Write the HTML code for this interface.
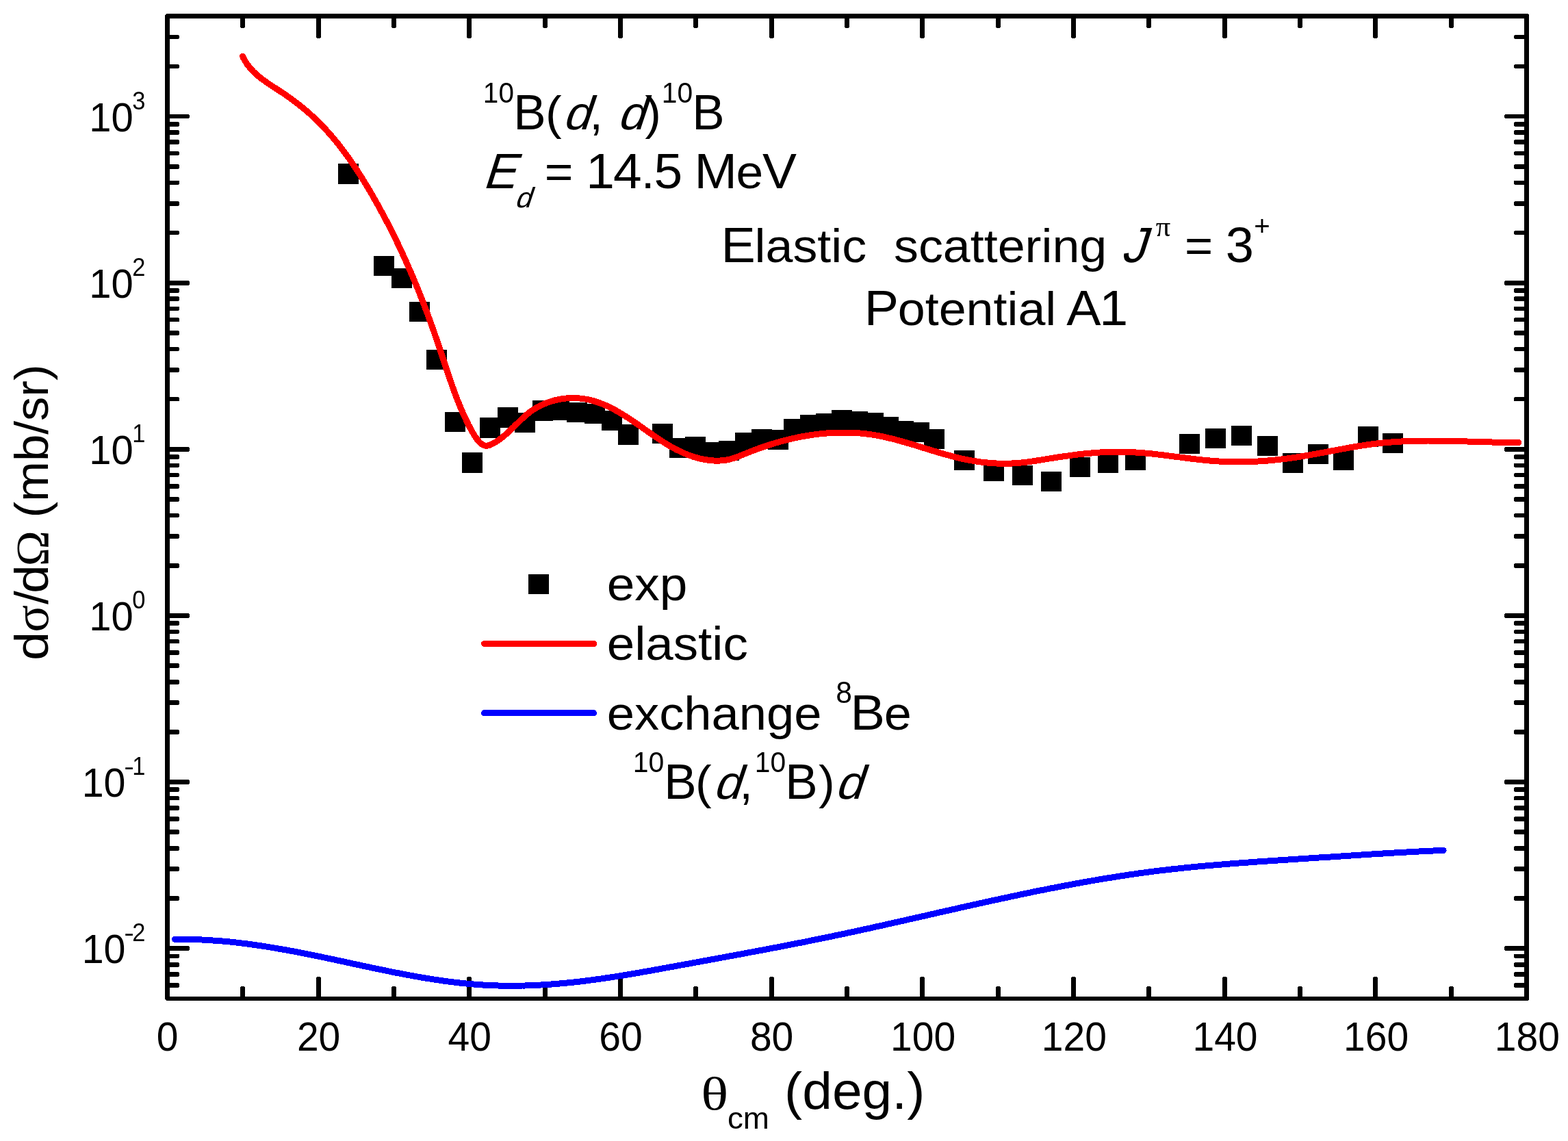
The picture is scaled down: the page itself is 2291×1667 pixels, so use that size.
<!DOCTYPE html>
<html lang="en"><head><meta charset="utf-8"><title>10B(d,d)10B elastic scattering, Ed = 14.5 MeV</title>
<style>html,body{margin:0;padding:0;background:#fff}body{width:2291px;height:1667px;overflow:hidden}svg{display:block}text{font-family:"Liberation Sans",sans-serif;fill:#000;white-space:pre}.sym{font-family:"Liberation Serif",serif}</style>
</head><body>
<svg width="2291" height="1667" viewBox="0 0 2291 1667">
<rect width="2291" height="1667" fill="#fff"/>
<path fill="#000" fill-rule="evenodd" shape-rendering="crispEdges" d="M243,20 H2232 L2234,22 V1460 L2232,1462 H243 L241,1460 V22 Z M248,27 V1456 H2227 V27Z"/>
<path fill="#000" shape-rendering="crispEdges" d="M351.33,1457 V1442.40 L352.73,1441.00 H356.93 L358.33,1442.40 V1457Z M351.33,26 V39.60 L352.73,41.00 H356.93 L358.33,39.60 V26Z M461.67,1457 V1428.40 L463.07,1427.00 H467.27 L468.67,1428.40 V1457Z M461.67,26 V54.60 L463.07,56.00 H467.27 L468.67,54.60 V26Z M572.00,1457 V1442.40 L573.40,1441.00 H577.60 L579.00,1442.40 V1457Z M572.00,26 V39.60 L573.40,41.00 H577.60 L579.00,39.60 V26Z M682.33,1457 V1428.40 L683.73,1427.00 H687.93 L689.33,1428.40 V1457Z M682.33,26 V54.60 L683.73,56.00 H687.93 L689.33,54.60 V26Z M792.67,1457 V1442.40 L794.07,1441.00 H798.27 L799.67,1442.40 V1457Z M792.67,26 V39.60 L794.07,41.00 H798.27 L799.67,39.60 V26Z M903.00,1457 V1428.40 L904.40,1427.00 H908.60 L910.00,1428.40 V1457Z M903.00,26 V54.60 L904.40,56.00 H908.60 L910.00,54.60 V26Z M1013.33,1457 V1442.40 L1014.73,1441.00 H1018.93 L1020.33,1442.40 V1457Z M1013.33,26 V39.60 L1014.73,41.00 H1018.93 L1020.33,39.60 V26Z M1123.67,1457 V1428.40 L1125.07,1427.00 H1129.27 L1130.67,1428.40 V1457Z M1123.67,26 V54.60 L1125.07,56.00 H1129.27 L1130.67,54.60 V26Z M1234.00,1457 V1442.40 L1235.40,1441.00 H1239.60 L1241.00,1442.40 V1457Z M1234.00,26 V39.60 L1235.40,41.00 H1239.60 L1241.00,39.60 V26Z M1344.33,1457 V1428.40 L1345.73,1427.00 H1349.93 L1351.33,1428.40 V1457Z M1344.33,26 V54.60 L1345.73,56.00 H1349.93 L1351.33,54.60 V26Z M1454.67,1457 V1442.40 L1456.07,1441.00 H1460.27 L1461.67,1442.40 V1457Z M1454.67,26 V39.60 L1456.07,41.00 H1460.27 L1461.67,39.60 V26Z M1565.00,1457 V1428.40 L1566.40,1427.00 H1570.60 L1572.00,1428.40 V1457Z M1565.00,26 V54.60 L1566.40,56.00 H1570.60 L1572.00,54.60 V26Z M1675.33,1457 V1442.40 L1676.73,1441.00 H1680.93 L1682.33,1442.40 V1457Z M1675.33,26 V39.60 L1676.73,41.00 H1680.93 L1682.33,39.60 V26Z M1785.67,1457 V1428.40 L1787.07,1427.00 H1791.27 L1792.67,1428.40 V1457Z M1785.67,26 V54.60 L1787.07,56.00 H1791.27 L1792.67,54.60 V26Z M1896.00,1457 V1442.40 L1897.40,1441.00 H1901.60 L1903.00,1442.40 V1457Z M1896.00,26 V39.60 L1897.40,41.00 H1901.60 L1903.00,39.60 V26Z M2006.33,1457 V1428.40 L2007.73,1427.00 H2011.93 L2013.33,1428.40 V1457Z M2006.33,26 V54.60 L2007.73,56.00 H2011.93 L2013.33,54.60 V26Z M2116.67,1457 V1442.40 L2118.07,1441.00 H2122.27 L2123.67,1442.40 V1457Z M2116.67,26 V39.60 L2118.07,41.00 H2122.27 L2123.67,39.60 V26Z M247,1436.34 H260.60 L262.00,1437.74 V1441.54 L260.60,1442.94 H247Z M2228,1436.34 H2213.40 L2212.00,1437.74 V1441.54 L2213.40,1442.94 H2228Z M247,1420.06 H260.60 L262.00,1421.46 V1425.26 L260.60,1426.66 H247Z M2228,1420.06 H2213.40 L2212.00,1421.46 V1425.26 L2213.40,1426.66 H2228Z M247,1405.96 H260.60 L262.00,1407.36 V1411.16 L260.60,1412.56 H247Z M2228,1405.96 H2213.40 L2212.00,1407.36 V1411.16 L2213.40,1412.56 H2228Z M247,1393.52 H260.60 L262.00,1394.92 V1398.72 L260.60,1400.12 H247Z M2228,1393.52 H2213.40 L2212.00,1394.92 V1398.72 L2213.40,1400.12 H2228Z M247,1382.40 H275.60 L277.00,1383.80 V1387.60 L275.60,1389.00 H247Z M2228,1382.40 H2199.40 L2198.00,1383.80 V1387.60 L2199.40,1389.00 H2228Z M247,1309.21 H260.60 L262.00,1310.61 V1314.41 L260.60,1315.81 H247Z M2228,1309.21 H2213.40 L2212.00,1310.61 V1314.41 L2213.40,1315.81 H2228Z M247,1266.40 H260.60 L262.00,1267.80 V1271.60 L260.60,1273.00 H247Z M2228,1266.40 H2213.40 L2212.00,1267.80 V1271.60 L2213.40,1273.00 H2228Z M247,1236.03 H260.60 L262.00,1237.43 V1241.23 L260.60,1242.63 H247Z M2228,1236.03 H2213.40 L2212.00,1237.43 V1241.23 L2213.40,1242.63 H2228Z M247,1212.47 H260.60 L262.00,1213.87 V1217.67 L260.60,1219.07 H247Z M2228,1212.47 H2213.40 L2212.00,1213.87 V1217.67 L2213.40,1219.07 H2228Z M247,1193.22 H260.60 L262.00,1194.62 V1198.42 L260.60,1199.82 H247Z M2228,1193.22 H2213.40 L2212.00,1194.62 V1198.42 L2213.40,1199.82 H2228Z M247,1176.94 H260.60 L262.00,1178.34 V1182.14 L260.60,1183.54 H247Z M2228,1176.94 H2213.40 L2212.00,1178.34 V1182.14 L2213.40,1183.54 H2228Z M247,1162.84 H260.60 L262.00,1164.24 V1168.04 L260.60,1169.44 H247Z M2228,1162.84 H2213.40 L2212.00,1164.24 V1168.04 L2213.40,1169.44 H2228Z M247,1150.40 H260.60 L262.00,1151.80 V1155.60 L260.60,1157.00 H247Z M2228,1150.40 H2213.40 L2212.00,1151.80 V1155.60 L2213.40,1157.00 H2228Z M247,1139.28 H275.60 L277.00,1140.68 V1144.48 L275.60,1145.88 H247Z M2228,1139.28 H2199.40 L2198.00,1140.68 V1144.48 L2199.40,1145.88 H2228Z M247,1066.09 H260.60 L262.00,1067.49 V1071.29 L260.60,1072.69 H247Z M2228,1066.09 H2213.40 L2212.00,1067.49 V1071.29 L2213.40,1072.69 H2228Z M247,1023.28 H260.60 L262.00,1024.68 V1028.48 L260.60,1029.88 H247Z M2228,1023.28 H2213.40 L2212.00,1024.68 V1028.48 L2213.40,1029.88 H2228Z M247,992.91 H260.60 L262.00,994.31 V998.11 L260.60,999.51 H247Z M2228,992.91 H2213.40 L2212.00,994.31 V998.11 L2213.40,999.51 H2228Z M247,969.35 H260.60 L262.00,970.75 V974.55 L260.60,975.95 H247Z M2228,969.35 H2213.40 L2212.00,970.75 V974.55 L2213.40,975.95 H2228Z M247,950.10 H260.60 L262.00,951.50 V955.30 L260.60,956.70 H247Z M2228,950.10 H2213.40 L2212.00,951.50 V955.30 L2213.40,956.70 H2228Z M247,933.82 H260.60 L262.00,935.22 V939.02 L260.60,940.42 H247Z M2228,933.82 H2213.40 L2212.00,935.22 V939.02 L2213.40,940.42 H2228Z M247,919.72 H260.60 L262.00,921.12 V924.92 L260.60,926.32 H247Z M2228,919.72 H2213.40 L2212.00,921.12 V924.92 L2213.40,926.32 H2228Z M247,907.28 H260.60 L262.00,908.68 V912.48 L260.60,913.88 H247Z M2228,907.28 H2213.40 L2212.00,908.68 V912.48 L2213.40,913.88 H2228Z M247,896.16 H275.60 L277.00,897.56 V901.36 L275.60,902.76 H247Z M2228,896.16 H2199.40 L2198.00,897.56 V901.36 L2199.40,902.76 H2228Z M247,822.97 H260.60 L262.00,824.37 V828.17 L260.60,829.57 H247Z M2228,822.97 H2213.40 L2212.00,824.37 V828.17 L2213.40,829.57 H2228Z M247,780.16 H260.60 L262.00,781.56 V785.36 L260.60,786.76 H247Z M2228,780.16 H2213.40 L2212.00,781.56 V785.36 L2213.40,786.76 H2228Z M247,749.79 H260.60 L262.00,751.19 V754.99 L260.60,756.39 H247Z M2228,749.79 H2213.40 L2212.00,751.19 V754.99 L2213.40,756.39 H2228Z M247,726.23 H260.60 L262.00,727.63 V731.43 L260.60,732.83 H247Z M2228,726.23 H2213.40 L2212.00,727.63 V731.43 L2213.40,732.83 H2228Z M247,706.98 H260.60 L262.00,708.38 V712.18 L260.60,713.58 H247Z M2228,706.98 H2213.40 L2212.00,708.38 V712.18 L2213.40,713.58 H2228Z M247,690.70 H260.60 L262.00,692.10 V695.90 L260.60,697.30 H247Z M2228,690.70 H2213.40 L2212.00,692.10 V695.90 L2213.40,697.30 H2228Z M247,676.60 H260.60 L262.00,678.00 V681.80 L260.60,683.20 H247Z M2228,676.60 H2213.40 L2212.00,678.00 V681.80 L2213.40,683.20 H2228Z M247,664.16 H260.60 L262.00,665.56 V669.36 L260.60,670.76 H247Z M2228,664.16 H2213.40 L2212.00,665.56 V669.36 L2213.40,670.76 H2228Z M247,653.04 H275.60 L277.00,654.44 V658.24 L275.60,659.64 H247Z M2228,653.04 H2199.40 L2198.00,654.44 V658.24 L2199.40,659.64 H2228Z M247,579.85 H260.60 L262.00,581.25 V585.05 L260.60,586.45 H247Z M2228,579.85 H2213.40 L2212.00,581.25 V585.05 L2213.40,586.45 H2228Z M247,537.04 H260.60 L262.00,538.44 V542.24 L260.60,543.64 H247Z M2228,537.04 H2213.40 L2212.00,538.44 V542.24 L2213.40,543.64 H2228Z M247,506.67 H260.60 L262.00,508.07 V511.87 L260.60,513.27 H247Z M2228,506.67 H2213.40 L2212.00,508.07 V511.87 L2213.40,513.27 H2228Z M247,483.11 H260.60 L262.00,484.51 V488.31 L260.60,489.71 H247Z M2228,483.11 H2213.40 L2212.00,484.51 V488.31 L2213.40,489.71 H2228Z M247,463.86 H260.60 L262.00,465.26 V469.06 L260.60,470.46 H247Z M2228,463.86 H2213.40 L2212.00,465.26 V469.06 L2213.40,470.46 H2228Z M247,447.58 H260.60 L262.00,448.98 V452.78 L260.60,454.18 H247Z M2228,447.58 H2213.40 L2212.00,448.98 V452.78 L2213.40,454.18 H2228Z M247,433.48 H260.60 L262.00,434.88 V438.68 L260.60,440.08 H247Z M2228,433.48 H2213.40 L2212.00,434.88 V438.68 L2213.40,440.08 H2228Z M247,421.04 H260.60 L262.00,422.44 V426.24 L260.60,427.64 H247Z M2228,421.04 H2213.40 L2212.00,422.44 V426.24 L2213.40,427.64 H2228Z M247,409.92 H275.60 L277.00,411.32 V415.12 L275.60,416.52 H247Z M2228,409.92 H2199.40 L2198.00,411.32 V415.12 L2199.40,416.52 H2228Z M247,336.73 H260.60 L262.00,338.13 V341.93 L260.60,343.33 H247Z M2228,336.73 H2213.40 L2212.00,338.13 V341.93 L2213.40,343.33 H2228Z M247,293.92 H260.60 L262.00,295.32 V299.12 L260.60,300.52 H247Z M2228,293.92 H2213.40 L2212.00,295.32 V299.12 L2213.40,300.52 H2228Z M247,263.55 H260.60 L262.00,264.95 V268.75 L260.60,270.15 H247Z M2228,263.55 H2213.40 L2212.00,264.95 V268.75 L2213.40,270.15 H2228Z M247,239.99 H260.60 L262.00,241.39 V245.19 L260.60,246.59 H247Z M2228,239.99 H2213.40 L2212.00,241.39 V245.19 L2213.40,246.59 H2228Z M247,220.74 H260.60 L262.00,222.14 V225.94 L260.60,227.34 H247Z M2228,220.74 H2213.40 L2212.00,222.14 V225.94 L2213.40,227.34 H2228Z M247,204.46 H260.60 L262.00,205.86 V209.66 L260.60,211.06 H247Z M2228,204.46 H2213.40 L2212.00,205.86 V209.66 L2213.40,211.06 H2228Z M247,190.36 H260.60 L262.00,191.76 V195.56 L260.60,196.96 H247Z M2228,190.36 H2213.40 L2212.00,191.76 V195.56 L2213.40,196.96 H2228Z M247,177.92 H260.60 L262.00,179.32 V183.12 L260.60,184.52 H247Z M2228,177.92 H2213.40 L2212.00,179.32 V183.12 L2213.40,184.52 H2228Z M247,166.80 H275.60 L277.00,168.20 V172.00 L275.60,173.40 H247Z M2228,166.80 H2199.40 L2198.00,168.20 V172.00 L2199.40,173.40 H2228Z M247,93.61 H260.60 L262.00,95.01 V98.81 L260.60,100.21 H247Z M2228,93.61 H2213.40 L2212.00,95.01 V98.81 L2213.40,100.21 H2228Z M247,50.80 H260.60 L262.00,52.20 V56.00 L260.60,57.40 H247Z M2228,50.80 H2213.40 L2212.00,52.20 V56.00 L2213.40,57.40 H2228Z"/>
<g fill="#000" shape-rendering="crispEdges">
<rect x="494" y="239" width="30" height="30"/>
<rect x="546" y="374" width="30" height="29"/>
<rect x="572" y="392" width="30" height="29"/>
<rect x="598" y="441" width="30" height="29"/>
<rect x="623" y="511" width="30" height="29"/>
<rect x="650" y="602" width="30" height="29"/>
<rect x="675" y="661" width="30" height="30"/>
<rect x="701" y="610" width="30" height="30"/>
<rect x="727" y="595" width="30" height="30"/>
<rect x="752" y="603" width="30" height="29"/>
<rect x="778" y="585" width="30" height="30"/>
<rect x="802" y="585" width="30" height="29"/>
<rect x="828" y="588" width="30" height="29"/>
<rect x="854" y="590" width="30" height="29"/>
<rect x="879" y="600" width="30" height="29"/>
<rect x="903" y="620" width="30" height="30"/>
<rect x="953" y="619" width="30" height="29"/>
<rect x="978" y="640" width="30" height="29"/>
<rect x="1001" y="638" width="30" height="29"/>
<rect x="1026" y="646" width="30" height="29"/>
<rect x="1050" y="644" width="30" height="29"/>
<rect x="1074" y="632" width="30" height="29"/>
<rect x="1098" y="627" width="30" height="29"/>
<rect x="1122" y="628" width="30" height="29"/>
<rect x="1145" y="612" width="30" height="29"/>
<rect x="1169" y="606" width="30" height="29"/>
<rect x="1192" y="604" width="30" height="29"/>
<rect x="1215" y="599" width="30" height="29"/>
<rect x="1238" y="601" width="30" height="29"/>
<rect x="1261" y="603" width="30" height="29"/>
<rect x="1283" y="609" width="30" height="29"/>
<rect x="1305" y="615" width="30" height="29"/>
<rect x="1328" y="617" width="30" height="29"/>
<rect x="1350" y="627" width="30" height="29"/>
<rect x="1394" y="658" width="30" height="29"/>
<rect x="1437" y="674" width="30" height="29"/>
<rect x="1479" y="680" width="30" height="29"/>
<rect x="1521" y="689" width="30" height="29"/>
<rect x="1563" y="668" width="30" height="29"/>
<rect x="1604" y="662" width="30" height="29"/>
<rect x="1644" y="658" width="30" height="29"/>
<rect x="1723" y="634" width="30" height="29"/>
<rect x="1761" y="626" width="30" height="29"/>
<rect x="1799" y="622" width="30" height="29"/>
<rect x="1837" y="637" width="30" height="29"/>
<rect x="1874" y="662" width="30" height="29"/>
<rect x="1911" y="649" width="30" height="29"/>
<rect x="1948" y="658" width="30" height="29"/>
<rect x="1984" y="623" width="30" height="30"/>
<rect x="2020" y="633" width="30" height="29"/>
</g>
<path d="M255.5,1372.4 258.5,1372.4 261.6,1372.3 264.6,1372.3 267.6,1372.3 270.6,1372.3 273.6,1372.4 276.7,1372.4 279.7,1372.5 282.7,1372.6 285.7,1372.7 288.7,1372.8 291.7,1372.9 294.7,1373.0 297.7,1373.2 300.7,1373.3 303.7,1373.5 306.7,1373.7 309.7,1373.9 312.7,1374.1 315.7,1374.3 318.7,1374.5 321.7,1374.8 324.7,1375.0 327.7,1375.3 330.7,1375.6 333.7,1375.8 336.7,1376.1 339.6,1376.5 342.6,1376.8 345.6,1377.1 348.6,1377.4 351.6,1377.8 354.5,1378.2 357.5,1378.5 360.5,1378.9 363.5,1379.3 366.4,1379.7 369.4,1380.1 372.4,1380.5 375.3,1381.0 378.3,1381.4 381.3,1381.8 384.2,1382.3 387.2,1382.7 390.2,1383.2 393.1,1383.7 396.1,1384.2 399.1,1384.7 402.0,1385.2 405.0,1385.7 407.9,1386.2 410.9,1386.7 413.9,1387.2 416.8,1387.7 419.8,1388.3 422.7,1388.8 425.7,1389.4 428.6,1389.9 431.6,1390.5 434.6,1391.0 437.5,1391.6 440.5,1392.2 443.4,1392.8 446.4,1393.4 449.3,1393.9 452.3,1394.5 455.2,1395.1 458.2,1395.7 461.1,1396.3 464.1,1397.0 467.1,1397.6 470.0,1398.2 473.0,1398.8 475.9,1399.4 478.9,1400.0 481.8,1400.7 484.8,1401.3 487.7,1401.9 490.7,1402.6 493.6,1403.2 496.6,1403.8 499.5,1404.5 502.5,1405.1 505.4,1405.7 508.4,1406.4 511.4,1407.0 514.3,1407.7 517.3,1408.3 520.2,1408.9 523.2,1409.6 526.1,1410.2 529.1,1410.8 532.0,1411.5 535.0,1412.1 537.9,1412.7 540.9,1413.4 543.8,1414.0 546.8,1414.6 549.8,1415.2 552.7,1415.9 555.7,1416.5 558.6,1417.1 561.6,1417.7 564.5,1418.3 567.5,1418.9 570.5,1419.5 573.4,1420.1 576.4,1420.7 579.3,1421.3 582.3,1421.8 585.2,1422.4 588.2,1423.0 591.2,1423.6 594.1,1424.1 597.1,1424.7 600.0,1425.2 603.0,1425.8 606.0,1426.3 608.9,1426.8 611.9,1427.3 614.8,1427.8 617.8,1428.4 620.8,1428.9 623.7,1429.3 626.7,1429.8 629.7,1430.3 632.6,1430.8 635.6,1431.2 638.6,1431.7 641.5,1432.1 644.5,1432.5 647.5,1433.0 650.4,1433.4 653.4,1433.8 656.4,1434.2 659.3,1434.5 662.3,1434.9 665.3,1435.3 668.3,1435.6 671.2,1436.0 674.2,1436.3 677.2,1436.6 680.1,1436.9 683.1,1437.2 686.1,1437.5 689.1,1437.7 692.0,1438.0 695.0,1438.2 698.0,1438.5 701.0,1438.7 704.0,1438.9 706.9,1439.1 709.9,1439.2 712.9,1439.4 715.9,1439.5 718.9,1439.7 721.9,1439.8 724.8,1439.9 727.8,1440.0 730.8,1440.0 733.8,1440.1 736.8,1440.2 739.8,1440.2 742.8,1440.2 745.7,1440.2 748.7,1440.2 751.7,1440.2 754.7,1440.2 757.7,1440.2 760.7,1440.1 763.7,1440.0 766.7,1440.0 769.7,1439.9 772.7,1439.8 775.7,1439.7 778.6,1439.5 781.6,1439.4 784.6,1439.3 787.6,1439.1 790.6,1439.0 793.6,1438.8 796.6,1438.6 799.6,1438.4 802.6,1438.2 805.6,1438.0 808.6,1437.7 811.6,1437.5 814.6,1437.3 817.5,1437.0 820.5,1436.7 823.5,1436.5 826.5,1436.2 829.5,1435.9 832.5,1435.6 835.5,1435.3 838.5,1435.0 841.5,1434.6 844.5,1434.3 847.5,1434.0 850.4,1433.6 853.4,1433.2 856.4,1432.9 859.4,1432.5 862.4,1432.1 865.4,1431.7 868.4,1431.3 871.3,1430.9 874.3,1430.5 877.3,1430.1 880.3,1429.7 883.3,1429.2 886.3,1428.8 889.2,1428.3 892.2,1427.9 895.2,1427.4 898.2,1427.0 901.2,1426.5 904.1,1426.0 907.1,1425.5 910.1,1425.1 913.1,1424.6 916.1,1424.1 919.0,1423.6 922.0,1423.1 925.0,1422.6 928.0,1422.1 930.9,1421.6 933.9,1421.1 936.9,1420.5 939.9,1420.0 942.8,1419.5 945.8,1419.0 948.8,1418.4 951.8,1417.9 954.7,1417.4 957.7,1416.8 960.7,1416.3 963.6,1415.8 966.6,1415.2 969.6,1414.7 972.5,1414.1 975.5,1413.6 978.5,1413.1 981.5,1412.5 984.4,1412.0 987.4,1411.4 990.4,1410.9 993.3,1410.3 996.3,1409.8 999.3,1409.2 1002.2,1408.7 1005.2,1408.2 1008.1,1407.6 1011.1,1407.1 1014.1,1406.5 1017.0,1406.0 1020.0,1405.4 1023.0,1404.9 1025.9,1404.4 1028.9,1403.8 1031.9,1403.3 1034.8,1402.7 1037.8,1402.2 1040.7,1401.6 1043.7,1401.1 1046.7,1400.6 1049.6,1400.0 1052.6,1399.5 1055.5,1398.9 1058.5,1398.4 1061.5,1397.8 1064.4,1397.3 1067.4,1396.7 1070.3,1396.2 1073.3,1395.6 1076.2,1395.1 1079.2,1394.5 1082.2,1394.0 1085.1,1393.4 1088.1,1392.9 1091.0,1392.3 1094.0,1391.8 1096.9,1391.2 1099.9,1390.7 1102.8,1390.1 1105.8,1389.6 1108.8,1389.0 1111.7,1388.5 1114.7,1387.9 1117.6,1387.3 1120.6,1386.8 1123.5,1386.2 1126.5,1385.7 1129.4,1385.1 1132.4,1384.5 1135.3,1384.0 1138.3,1383.4 1141.2,1382.8 1144.2,1382.3 1147.1,1381.7 1150.1,1381.1 1153.0,1380.5 1156.0,1380.0 1158.9,1379.4 1161.9,1378.8 1164.8,1378.2 1167.7,1377.6 1170.7,1377.1 1173.6,1376.5 1176.6,1375.9 1179.5,1375.3 1182.5,1374.7 1185.4,1374.1 1188.4,1373.5 1191.3,1372.9 1194.2,1372.3 1197.2,1371.7 1200.1,1371.1 1203.1,1370.5 1206.0,1369.9 1209.0,1369.3 1211.9,1368.7 1214.8,1368.1 1217.8,1367.5 1220.7,1366.8 1223.7,1366.2 1226.6,1365.6 1229.5,1365.0 1232.5,1364.4 1235.4,1363.7 1238.4,1363.1 1241.3,1362.5 1244.2,1361.8 1247.2,1361.2 1250.1,1360.6 1253.1,1359.9 1256.0,1359.3 1258.9,1358.6 1261.9,1358.0 1264.8,1357.4 1267.7,1356.7 1270.7,1356.1 1273.6,1355.4 1276.5,1354.8 1279.5,1354.1 1282.4,1353.5 1285.4,1352.8 1288.3,1352.2 1291.2,1351.5 1294.2,1350.9 1297.1,1350.2 1300.0,1349.5 1303.0,1348.9 1305.9,1348.2 1308.8,1347.6 1311.8,1346.9 1314.7,1346.2 1317.6,1345.6 1320.6,1344.9 1323.5,1344.3 1326.4,1343.6 1329.4,1342.9 1332.3,1342.3 1335.2,1341.6 1338.2,1340.9 1341.1,1340.3 1344.0,1339.6 1347.0,1338.9 1349.9,1338.3 1352.8,1337.6 1355.8,1336.9 1358.7,1336.3 1361.6,1335.6 1364.6,1334.9 1367.5,1334.3 1370.4,1333.6 1373.4,1332.9 1376.3,1332.3 1379.2,1331.6 1382.2,1330.9 1385.1,1330.3 1388.0,1329.6 1391.0,1328.9 1393.9,1328.3 1396.8,1327.6 1399.8,1327.0 1402.7,1326.3 1405.6,1325.6 1408.6,1325.0 1411.5,1324.3 1414.4,1323.7 1417.4,1323.0 1420.3,1322.3 1423.3,1321.7 1426.2,1321.0 1429.1,1320.4 1432.1,1319.7 1435.0,1319.1 1437.9,1318.4 1440.9,1317.8 1443.8,1317.1 1446.7,1316.5 1449.7,1315.8 1452.6,1315.2 1455.6,1314.6 1458.5,1313.9 1461.4,1313.3 1464.4,1312.7 1467.3,1312.0 1470.2,1311.4 1473.2,1310.8 1476.1,1310.1 1479.1,1309.5 1482.0,1308.9 1485.0,1308.3 1487.9,1307.6 1490.8,1307.0 1493.8,1306.4 1496.7,1305.8 1499.7,1305.2 1502.6,1304.6 1505.5,1304.0 1508.5,1303.3 1511.4,1302.7 1514.4,1302.1 1517.3,1301.5 1520.3,1300.9 1523.2,1300.4 1526.2,1299.8 1529.1,1299.2 1532.1,1298.6 1535.0,1298.0 1538.0,1297.4 1540.9,1296.9 1543.9,1296.3 1546.8,1295.7 1549.7,1295.1 1552.7,1294.6 1555.7,1294.0 1558.6,1293.5 1561.6,1292.9 1564.5,1292.3 1567.5,1291.8 1570.4,1291.3 1573.4,1290.7 1576.3,1290.2 1579.3,1289.6 1582.2,1289.1 1585.2,1288.6 1588.1,1288.1 1591.1,1287.5 1594.1,1287.0 1597.0,1286.5 1600.0,1286.0 1602.9,1285.5 1605.9,1285.0 1608.9,1284.5 1611.8,1284.0 1614.8,1283.5 1617.8,1283.0 1620.7,1282.5 1623.7,1282.1 1626.6,1281.6 1629.6,1281.1 1632.6,1280.6 1635.5,1280.2 1638.5,1279.7 1641.5,1279.3 1644.5,1278.8 1647.4,1278.4 1650.4,1277.9 1653.4,1277.5 1656.3,1277.1 1659.3,1276.7 1662.3,1276.2 1665.3,1275.8 1668.2,1275.4 1671.2,1275.0 1674.2,1274.6 1677.2,1274.2 1680.1,1273.8 1683.1,1273.4 1686.1,1273.0 1689.1,1272.7 1692.1,1272.3 1695.0,1271.9 1698.0,1271.6 1701.0,1271.2 1704.0,1270.9 1707.0,1270.5 1710.0,1270.2 1713.0,1269.8 1715.9,1269.5 1718.9,1269.2 1721.9,1268.9 1724.9,1268.5 1727.9,1268.2 1730.9,1267.9 1733.9,1267.6 1736.9,1267.3 1739.9,1267.0 1742.9,1266.7 1745.9,1266.4 1748.9,1266.1 1751.9,1265.9 1754.9,1265.6 1757.8,1265.3 1760.8,1265.0 1763.8,1264.8 1766.8,1264.5 1769.8,1264.2 1772.8,1264.0 1775.8,1263.7 1778.8,1263.5 1781.8,1263.2 1784.8,1263.0 1787.8,1262.7 1790.8,1262.5 1793.8,1262.2 1796.8,1262.0 1799.8,1261.8 1802.8,1261.5 1805.9,1261.3 1808.9,1261.1 1811.9,1260.8 1814.9,1260.6 1817.9,1260.4 1820.9,1260.2 1823.9,1260.0 1826.9,1259.7 1829.9,1259.5 1832.9,1259.3 1835.9,1259.1 1838.9,1258.9 1841.9,1258.7 1844.9,1258.5 1847.9,1258.3 1850.9,1258.1 1853.9,1257.9 1856.9,1257.7 1859.9,1257.5 1862.9,1257.3 1865.9,1257.1 1869.0,1256.9 1872.0,1256.7 1875.0,1256.5 1878.0,1256.3 1881.0,1256.1 1884.0,1255.9 1887.0,1255.7 1890.0,1255.5 1893.0,1255.3 1896.0,1255.1 1899.0,1254.9 1902.0,1254.7 1905.0,1254.5 1908.0,1254.3 1911.0,1254.1 1914.0,1253.9 1917.0,1253.7 1920.0,1253.5 1923.0,1253.3 1926.0,1253.1 1929.0,1252.9 1932.0,1252.7 1935.0,1252.5 1938.0,1252.3 1941.1,1252.2 1944.1,1252.0 1947.1,1251.8 1950.1,1251.6 1953.1,1251.4 1956.1,1251.2 1959.1,1251.0 1962.1,1250.8 1965.1,1250.6 1968.1,1250.4 1971.1,1250.2 1974.1,1250.0 1977.1,1249.8 1980.1,1249.6 1983.1,1249.4 1986.1,1249.2 1989.1,1249.0 1992.1,1248.8 1995.1,1248.6 1998.1,1248.4 2001.1,1248.2 2004.1,1248.0 2007.1,1247.9 2010.1,1247.7 2013.1,1247.5 2016.1,1247.3 2019.1,1247.1 2022.1,1246.9 2025.1,1246.7 2028.1,1246.6 2031.1,1246.4 2034.1,1246.2 2037.1,1246.0 2040.1,1245.8 2043.1,1245.7 2046.1,1245.5 2049.1,1245.3 2052.1,1245.2 2055.1,1245.0 2058.1,1244.8 2061.1,1244.7 2064.1,1244.5 2067.1,1244.3 2070.1,1244.2 2073.1,1244.0 2076.1,1243.9 2079.1,1243.7 2082.1,1243.6 2085.1,1243.4 2088.1,1243.3 2091.1,1243.1 2094.1,1243.0 2097.1,1242.8 2100.1,1242.7 2103.1,1242.6 2106.1,1242.4 2109.1,1242.3" fill="none" stroke="#0000ff" stroke-width="9" stroke-linecap="round" stroke-linejoin="round" shape-rendering="crispEdges"/>
<path d="M354.5,82.3 355.8,85.1 357.3,87.8 358.9,90.4 360.5,93.0 362.3,95.4 364.1,97.7 366.0,100.0 368.0,102.2 370.0,104.4 372.2,106.5 374.4,108.5 376.6,110.4 378.9,112.4 381.3,114.2 383.7,116.1 386.1,117.8 388.6,119.6 391.1,121.3 393.6,123.0 396.1,124.7 398.7,126.4 401.2,128.1 403.8,129.7 406.3,131.4 408.9,133.1 411.4,134.7 414.0,136.4 416.5,138.1 419.0,139.8 421.4,141.6 423.9,143.3 426.3,145.1 428.7,146.9 431.1,148.7 433.5,150.5 435.9,152.3 438.2,154.1 440.5,156.0 442.8,157.9 445.1,159.8 447.4,161.7 449.6,163.6 451.9,165.6 454.1,167.6 456.3,169.6 458.5,171.6 460.6,173.6 462.7,175.6 464.9,177.7 467.0,179.8 469.1,181.9 471.1,184.1 473.2,186.2 475.2,188.4 477.2,190.6 479.2,192.8 481.2,195.0 483.1,197.2 485.1,199.5 487.0,201.8 488.9,204.1 490.8,206.4 492.7,208.7 494.6,211.0 496.4,213.4 498.3,215.8 500.1,218.2 501.9,220.6 503.7,223.0 505.5,225.4 507.3,227.8 509.0,230.3 510.8,232.7 512.5,235.2 514.2,237.7 515.9,240.2 517.6,242.7 519.3,245.2 520.9,247.7 522.6,250.2 524.2,252.8 525.9,255.3 527.5,257.9 529.1,260.4 530.7,263.0 532.3,265.6 533.8,268.2 535.4,270.7 537.0,273.3 538.5,275.9 540.1,278.5 541.6,281.1 543.1,283.7 544.6,286.3 546.1,289.0 547.6,291.6 549.1,294.2 550.6,296.8 552.1,299.5 553.5,302.1 555.0,304.7 556.4,307.4 557.8,310.0 559.3,312.7 560.7,315.3 562.1,318.0 563.5,320.6 564.9,323.3 566.3,326.0 567.7,328.6 569.0,331.3 570.4,334.0 571.7,336.6 573.1,339.3 574.4,342.0 575.8,344.7 577.1,347.4 578.4,350.1 579.7,352.8 581.0,355.5 582.3,358.2 583.6,360.9 584.9,363.6 586.1,366.3 587.4,369.0 588.6,371.8 589.9,374.5 591.1,377.2 592.4,379.9 593.6,382.7 594.8,385.4 596.0,388.1 597.2,390.9 598.4,393.6 599.6,396.4 600.8,399.1 602.0,401.9 603.2,404.6 604.3,407.4 605.5,410.2 606.6,412.9 607.8,415.7 608.9,418.5 610.0,421.2 611.2,424.0 612.3,426.8 613.4,429.6 614.5,432.4 615.6,435.2 616.7,437.9 617.8,440.7 618.9,443.5 620.0,446.3 621.0,449.1 622.1,451.9 623.2,454.7 624.2,457.5 625.3,460.4 626.3,463.2 627.3,466.0 628.4,468.8 629.4,471.6 630.4,474.4 631.4,477.3 632.4,480.1 633.4,482.9 634.4,485.8 635.4,488.6 636.4,491.4 637.4,494.3 638.4,497.1 639.3,500.0 640.3,502.8 641.3,505.7 642.2,508.5 643.2,511.4 644.1,514.2 645.1,517.1 646.0,519.9 646.9,522.8 647.9,525.7 648.8,528.5 649.8,531.4 650.7,534.2 651.7,537.1 652.6,539.9 653.6,542.8 654.5,545.6 655.5,548.5 656.4,551.3 657.4,554.2 658.4,557.0 659.4,559.9 660.4,562.7 661.4,565.5 662.4,568.3 663.4,571.2 664.5,574.0 665.5,576.8 666.6,579.6 667.6,582.4 668.7,585.2 669.8,587.9 671.0,590.7 672.1,593.5 673.2,596.2 674.4,599.0 675.6,601.7 676.8,604.4 678.0,607.2 679.3,609.9 680.6,612.6 681.9,615.3 683.2,617.9 684.5,620.6 685.9,623.3 687.3,625.9 688.7,628.5 690.2,631.2 691.8,633.8 693.4,636.5 695.2,639.2 697.1,641.9 699.2,644.5 701.4,646.8 703.7,648.8 706.1,650.3 708.7,651.1 711.4,651.2 714.1,650.7 716.9,649.7 719.7,648.3 722.5,646.8 725.1,645.2 727.7,643.5 730.2,641.7 732.7,639.9 735.1,638.0 737.4,636.0 739.7,634.0 742.0,632.0 744.2,629.9 746.4,627.8 748.6,625.7 750.8,623.6 752.9,621.4 755.1,619.3 757.3,617.2 759.4,615.1 761.6,613.0 763.8,610.9 766.0,608.9 768.2,606.9 770.5,605.0 772.9,603.1 775.2,601.3 777.7,599.6 780.1,598.0 782.7,596.4 785.2,594.9 787.9,593.5 790.6,592.1 793.3,590.8 796.0,589.7 798.8,588.6 801.7,587.5 804.5,586.6 807.4,585.7 810.3,584.9 813.3,584.2 816.2,583.6 819.2,583.1 822.2,582.6 825.2,582.2 828.2,581.9 831.2,581.7 834.2,581.6 837.2,581.5 840.2,581.6 843.2,581.7 846.2,581.9 849.1,582.2 852.1,582.5 855.0,583.0 858.0,583.5 860.9,584.1 863.8,584.8 866.6,585.6 869.5,586.4 872.3,587.4 875.1,588.3 877.9,589.4 880.7,590.5 883.4,591.6 886.2,592.8 888.9,594.1 891.6,595.4 894.3,596.8 897.0,598.2 899.7,599.6 902.3,601.1 905.0,602.7 907.6,604.2 910.2,605.8 912.8,607.4 915.4,609.1 918.0,610.7 920.6,612.4 923.1,614.1 925.6,615.8 928.2,617.6 930.7,619.3 933.2,621.0 935.7,622.8 938.2,624.5 940.6,626.3 943.1,628.0 945.6,629.8 948.0,631.5 950.5,633.2 953.0,634.9 955.4,636.6 957.9,638.3 960.4,640.0 962.9,641.7 965.3,643.3 967.8,644.9 970.3,646.5 972.9,648.1 975.4,649.6 977.9,651.2 980.5,652.6 983.1,654.1 985.7,655.5 988.3,656.9 991.0,658.2 993.6,659.5 996.3,660.8 999.1,662.0 1001.8,663.1 1004.6,664.2 1007.4,665.3 1010.3,666.3 1013.1,667.3 1016.1,668.2 1019.0,669.0 1022.0,669.8 1025.0,670.5 1028.0,671.1 1031.0,671.6 1034.0,672.1 1037.1,672.5 1040.1,672.8 1043.2,673.0 1046.2,673.1 1049.2,673.1 1052.2,673.0 1055.2,672.8 1058.2,672.5 1061.2,672.0 1064.1,671.5 1067.0,670.8 1069.9,670.0 1072.7,669.1 1075.5,668.2 1078.3,667.1 1081.1,666.0 1083.9,664.9 1086.7,663.8 1089.5,662.6 1092.3,661.5 1095.1,660.3 1097.9,659.2 1100.7,658.2 1103.5,657.1 1106.3,656.0 1109.2,655.0 1112.0,654.0 1114.9,653.0 1117.8,652.0 1120.6,651.1 1123.5,650.1 1126.4,649.2 1129.3,648.3 1132.2,647.4 1135.1,646.6 1138.0,645.8 1140.9,644.9 1143.8,644.2 1146.8,643.4 1149.7,642.6 1152.6,641.9 1155.6,641.2 1158.5,640.5 1161.5,639.9 1164.4,639.3 1167.4,638.7 1170.3,638.1 1173.3,637.5 1176.3,637.0 1179.2,636.5 1182.2,636.0 1185.2,635.6 1188.2,635.1 1191.2,634.7 1194.1,634.3 1197.1,634.0 1200.1,633.7 1203.1,633.4 1206.1,633.1 1209.1,632.9 1212.1,632.7 1215.0,632.5 1218.0,632.3 1221.0,632.2 1224.0,632.1 1227.0,632.0 1230.0,632.0 1233.0,632.0 1236.0,632.0 1238.9,632.0 1241.9,632.1 1244.9,632.2 1247.9,632.4 1250.9,632.6 1253.8,632.8 1256.8,633.0 1259.8,633.3 1262.7,633.6 1265.7,633.9 1268.7,634.3 1271.6,634.7 1274.6,635.1 1277.5,635.6 1280.5,636.1 1283.4,636.7 1286.3,637.2 1289.3,637.8 1292.2,638.4 1295.1,639.1 1298.0,639.8 1301.0,640.5 1303.9,641.2 1306.8,641.9 1309.7,642.7 1312.6,643.5 1315.5,644.3 1318.4,645.1 1321.3,645.9 1324.3,646.8 1327.2,647.6 1330.1,648.5 1333.0,649.3 1335.9,650.2 1338.8,651.1 1341.7,652.0 1344.6,652.9 1347.5,653.8 1350.4,654.7 1353.3,655.6 1356.2,656.5 1359.1,657.4 1362.0,658.3 1364.9,659.1 1367.8,660.0 1370.7,660.9 1373.6,661.7 1376.5,662.6 1379.4,663.4 1382.3,664.2 1385.3,665.0 1388.2,665.8 1391.1,666.6 1394.0,667.4 1397.0,668.1 1399.9,668.8 1402.8,669.5 1405.8,670.2 1408.7,670.8 1411.7,671.4 1414.6,672.0 1417.6,672.6 1420.5,673.1 1423.5,673.6 1426.4,674.0 1429.4,674.5 1432.4,674.9 1435.3,675.3 1438.3,675.6 1441.3,675.9 1444.3,676.2 1447.2,676.5 1450.2,676.7 1453.2,676.9 1456.2,677.0 1459.2,677.1 1462.1,677.2 1465.1,677.3 1468.1,677.3 1471.1,677.3 1474.1,677.2 1477.1,677.1 1480.0,676.9 1483.0,676.8 1486.0,676.5 1489.0,676.3 1492.0,676.0 1494.9,675.7 1497.9,675.3 1500.9,675.0 1503.9,674.6 1506.8,674.2 1509.8,673.7 1512.8,673.3 1515.8,672.8 1518.8,672.4 1521.7,671.9 1524.7,671.4 1527.7,670.9 1530.7,670.4 1533.7,669.9 1536.6,669.4 1539.6,669.0 1542.6,668.5 1545.6,668.0 1548.6,667.6 1551.6,667.1 1554.6,666.7 1557.6,666.3 1560.6,665.9 1563.5,665.5 1566.5,665.1 1569.5,664.7 1572.5,664.3 1575.5,663.9 1578.5,663.6 1581.5,663.3 1584.5,662.9 1587.5,662.6 1590.5,662.3 1593.5,662.1 1596.5,661.8 1599.5,661.6 1602.5,661.3 1605.5,661.1 1608.5,660.9 1611.5,660.8 1614.5,660.6 1617.5,660.5 1620.5,660.4 1623.5,660.3 1626.5,660.2 1629.5,660.2 1632.5,660.1 1635.5,660.1 1638.5,660.2 1641.5,660.2 1644.5,660.3 1647.5,660.4 1650.5,660.5 1653.5,660.6 1656.5,660.8 1659.5,661.0 1662.5,661.2 1665.5,661.4 1668.5,661.6 1671.5,661.9 1674.5,662.1 1677.5,662.4 1680.5,662.7 1683.5,663.0 1686.5,663.4 1689.5,663.7 1692.5,664.1 1695.5,664.4 1698.5,664.8 1701.4,665.1 1704.4,665.5 1707.4,665.9 1710.4,666.3 1713.4,666.7 1716.4,667.1 1719.4,667.5 1722.4,667.8 1725.4,668.2 1728.4,668.6 1731.4,669.0 1734.4,669.4 1737.4,669.8 1740.3,670.1 1743.3,670.5 1746.3,670.8 1749.3,671.2 1752.3,671.5 1755.3,671.8 1758.3,672.2 1761.3,672.5 1764.3,672.7 1767.3,673.0 1770.3,673.3 1773.3,673.5 1776.3,673.7 1779.3,673.9 1782.3,674.1 1785.3,674.2 1788.3,674.4 1791.3,674.5 1794.2,674.6 1797.2,674.7 1800.2,674.8 1803.2,674.8 1806.2,674.8 1809.2,674.8 1812.2,674.8 1815.2,674.8 1818.2,674.7 1821.2,674.7 1824.2,674.6 1827.2,674.5 1830.2,674.4 1833.2,674.3 1836.2,674.1 1839.2,673.9 1842.2,673.8 1845.2,673.6 1848.2,673.3 1851.1,673.1 1854.1,672.9 1857.1,672.6 1860.1,672.3 1863.1,672.0 1866.1,671.7 1869.1,671.4 1872.1,671.0 1875.0,670.7 1878.0,670.3 1881.0,669.9 1884.0,669.5 1886.9,669.1 1889.9,668.7 1892.9,668.2 1895.9,667.8 1898.8,667.3 1901.8,666.8 1904.8,666.3 1907.7,665.8 1910.7,665.3 1913.7,664.8 1916.6,664.2 1919.6,663.7 1922.6,663.2 1925.5,662.6 1928.5,662.1 1931.4,661.5 1934.4,661.0 1937.4,660.4 1940.3,659.8 1943.3,659.3 1946.3,658.7 1949.2,658.2 1952.2,657.6 1955.1,657.1 1958.1,656.5 1961.1,656.0 1964.0,655.4 1967.0,654.9 1970.0,654.3 1972.9,653.8 1975.9,653.3 1978.9,652.8 1981.8,652.3 1984.8,651.8 1987.8,651.3 1990.7,650.9 1993.7,650.4 1996.7,650.0 1999.7,649.6 2002.6,649.1 2005.6,648.8 2008.6,648.4 2011.6,648.0 2014.6,647.7 2017.5,647.3 2020.5,647.0 2023.5,646.8 2026.5,646.5 2029.5,646.2 2032.5,646.0 2035.5,645.8 2038.5,645.6 2041.5,645.4 2044.5,645.2 2047.5,645.0 2050.5,644.9 2053.5,644.7 2056.5,644.6 2059.5,644.5 2062.5,644.4 2065.5,644.3 2068.5,644.3 2071.5,644.2 2074.5,644.1 2077.5,644.1 2080.6,644.1 2083.6,644.1 2086.6,644.0 2089.6,644.0 2092.6,644.0 2095.6,644.1 2098.6,644.1 2101.7,644.1 2104.7,644.1 2107.7,644.2 2110.7,644.2 2113.7,644.3 2116.7,644.3 2119.8,644.4 2122.8,644.5 2125.8,644.5 2128.8,644.6 2131.8,644.7 2134.8,644.8 2137.9,644.8 2140.9,644.9 2143.9,645.0 2146.9,645.1 2149.9,645.2 2152.9,645.3 2155.9,645.3 2159.0,645.4 2162.0,645.5 2165.0,645.6 2168.0,645.7 2171.0,645.8 2174.0,645.8 2177.0,645.9 2180.0,646.0 2183.0,646.0 2186.0,646.1 2189.0,646.2 2192.0,646.2 2195.0,646.3 2198.0,646.3 2201.0,646.3 2204.0,646.4 2207.0,646.4 2210.0,646.4 2213.0,646.4 2216.0,646.4 2219.0,646.4" fill="none" stroke="#ff0000" stroke-width="9" stroke-linecap="round" stroke-linejoin="round" shape-rendering="crispEdges"/>
<g font-size="57" text-anchor="middle">
<text transform="translate(244.5,1535) scale(1,1.04)">0</text>
<text transform="translate(465.6,1535) scale(1,1.04)">20</text>
<text transform="translate(686.2,1535) scale(1,1.04)">40</text>
<text transform="translate(906.9,1535) scale(1,1.04)">60</text>
<text transform="translate(1127.6,1535) scale(1,1.04)">80</text>
<text transform="translate(1348.6,1535) scale(1,1.04)">100</text>
<text transform="translate(1569.3,1535) scale(1,1.04)">120</text>
<text transform="translate(1790.0,1535) scale(1,1.04)">140</text>
<text transform="translate(2010.6,1535) scale(1,1.04)">160</text>
<text transform="translate(2231.3,1535) scale(1,1.04)">180</text>
</g>
<g><text transform="translate(119.63,1407.40) scale(1.0061,1.0400)" font-size="57">10</text><text transform="translate(181.25,1375.40) scale(1.2750,1.0000)" font-size="34.5">-</text><text transform="translate(193.20,1375.40) scale(1.0000,1.0600)" font-size="34.5">2</text></g>
<g><text transform="translate(119.63,1164.28) scale(1.0061,1.0400)" font-size="57">10</text><text transform="translate(181.25,1132.28) scale(1.2750,1.0000)" font-size="34.5">-</text><text transform="translate(193.20,1132.28) scale(1.0000,1.0600)" font-size="34.5">1</text></g>
<g><text transform="translate(130.23,921.16) scale(1.0175,1.0400)" font-size="57">10</text><text transform="translate(193.20,889.16) scale(1.0000,1.0600)" font-size="34.5">0</text></g>
<g><text transform="translate(130.23,678.04) scale(1.0175,1.0400)" font-size="57">10</text><text transform="translate(193.20,646.04) scale(1.0000,1.0600)" font-size="34.5">1</text></g>
<g><text transform="translate(130.23,434.92) scale(1.0175,1.0400)" font-size="57">10</text><text transform="translate(193.20,402.92) scale(1.0000,1.0600)" font-size="34.5">2</text></g>
<g><text transform="translate(130.23,191.80) scale(1.0175,1.0400)" font-size="57">10</text><text transform="translate(193.20,159.80) scale(1.0000,1.0600)" font-size="34.5">3</text></g>
<g><text transform="translate(705.87,150.00) scale(0.9780,1.0300)" font-size="41.4">10</text><text transform="translate(750.23,188.90) scale(1.0300,1.0550)" font-size="69">B</text><text transform="translate(797.06,188.90) scale(1.0300,1.0000)" font-size="69">(</text><text transform="translate(821.19,188.90) scale(1.0300,1.0000) skewX(-18)" font-size="69">d</text><text transform="translate(861.32,188.90) scale(1.0300,1.0000)" font-size="69">, </text><text transform="translate(901.05,188.90) scale(1.0300,1.0000) skewX(-18)" font-size="69">d</text><text transform="translate(942.35,188.90) scale(1.0300,1.0000)" font-size="69">)</text><text transform="translate(966.84,150.00) scale(0.9854,1.0300)" font-size="41.4">10</text><text transform="translate(1011.33,188.90) scale(1.0300,1.0550)" font-size="69">B</text></g>
<g><text transform="translate(704.58,274.80) scale(1.0300,1.0550) skewX(-18)" font-size="69">E</text><text transform="translate(751.44,302.60) scale(1.0300,1.0000) skewX(-18)" font-size="41.4">d </text><text transform="translate(795.80,274.80) scale(1.0345,1.0000)" font-size="69"><tspan x="0.00">= </tspan><tspan x="58.49 96.87" font-size="72.45">14</tspan><tspan x="136.20">.</tspan><tspan x="154.42 193.27 211.48" font-size="72.45">5 M</tspan><tspan x="270.41">e</tspan><tspan x="307.63" font-size="72.45">V</tspan></text></g>
<g><text transform="translate(1054.66,383.10) scale(1.0408,1.0000)" font-size="69"><tspan x="-1.15" font-size="72.45">E</tspan><tspan x="46.02">lastic  scattering</tspan> </text><text transform="translate(1637.25,383.10) scale(1.0300,1.0550) skewX(-18)" font-size="69">J</text><text class="sym" transform="translate(1688.84,344.80) scale(1.0300,1.0000)" font-size="41.4">π </text><text transform="translate(1731.03,383.10) scale(1.0217,1.0000)" font-size="69"><tspan x="0.00">= </tspan><tspan x="58.49" font-size="72.45">3</tspan></text><text transform="translate(1832.36,344.00) scale(0.9700,1.0000)" font-size="41.4">+</text></g>
<g><text transform="translate(1263.85,475.10) scale(1.0410,1.0000)" font-size="69"><tspan x="-1.15" font-size="72.45">P</tspan><tspan x="46.02">otential </tspan><tspan x="282.72 328.95" font-size="72.45">A1</tspan></text></g>
<g><text transform="translate(886.73,876.50) scale(1.0581,1.0000)" font-size="69">exp</text></g>
<g><text transform="translate(886.74,963.90) scale(1.0539,1.0000)" font-size="69">elastic</text></g>
<g><text transform="translate(886.75,1066.00) scale(1.0488,1.0000)" font-size="69">exchange </text><text transform="translate(1221.25,1026.80) scale(1.0300,1.0500)" font-size="41.4">8</text><text transform="translate(1243.64,1066.00) scale(1.0440,1.0000)" font-size="69"><tspan x="-1.15" font-size="72.45">B</tspan><tspan x="46.02">e</tspan></text></g>
<g><text transform="translate(924.63,1127.90) scale(0.9902,1.0300)" font-size="41.4">10</text><text transform="translate(970.33,1167.00) scale(1.0300,1.0550)" font-size="69">B</text><text transform="translate(1015.96,1167.00) scale(1.0300,1.0000)" font-size="69">(</text><text transform="translate(1041.05,1167.00) scale(1.0300,1.0000) skewX(-18)" font-size="69">d</text><text transform="translate(1080.27,1167.00) scale(1.0300,1.0000)" font-size="69">,</text><text transform="translate(1102.74,1127.90) scale(0.9854,1.0300)" font-size="41.4">10</text><text transform="translate(1147.33,1167.00) scale(1.0300,1.0550)" font-size="69">B</text><text transform="translate(1196.05,1167.00) scale(1.0300,1.0000)" font-size="69">)</text><text transform="translate(1219.09,1167.00) scale(1.0300,1.0000) skewX(-18)" font-size="69">d</text></g>
<g><text class="sym" transform="translate(1024.16,1620.60) scale(1.2148,1.0000)" font-size="68.6">θ</text><text transform="translate(1062.96,1649.40) scale(1.0182,1.0000)" font-size="45">cm </text><text transform="translate(1146.08,1619.80) scale(1.0449,1.0000)" font-size="75.2">(deg.)</text></g>
<g><text transform="translate(70.10,964.90) rotate(-90) scale(1.1000,1.0000)" font-size="69">d</text><text class="sym" transform="translate(70.10,923.87) rotate(-90) scale(1.0300,1.0000)" font-size="72">σ</text><text transform="translate(70.10,882.93) rotate(-90) scale(1.0300,1.0000)" font-size="69">/</text><text transform="translate(70.10,866.64) rotate(-90) scale(1.0806,1.0000)" font-size="69">d</text><text class="sym" transform="translate(70.10,827.36) rotate(-90) scale(1.0300,1.0000)" font-size="68">Ω </text><text transform="translate(70.10,756.60) rotate(-90) scale(1.0262,1.0000)" font-size="69">(mb/sr)</text></g>
<rect x="772" y="839" width="30" height="29" fill="#000" shape-rendering="crispEdges"/>
<path d="M707.5,940.5 H867.6" stroke="#ff0000" stroke-width="9" stroke-linecap="round" fill="none" shape-rendering="crispEdges"/>
<path d="M707.5,1041.7 H867.6" stroke="#0000ff" stroke-width="9" stroke-linecap="round" fill="none" shape-rendering="crispEdges"/>
</svg>
</body></html>
